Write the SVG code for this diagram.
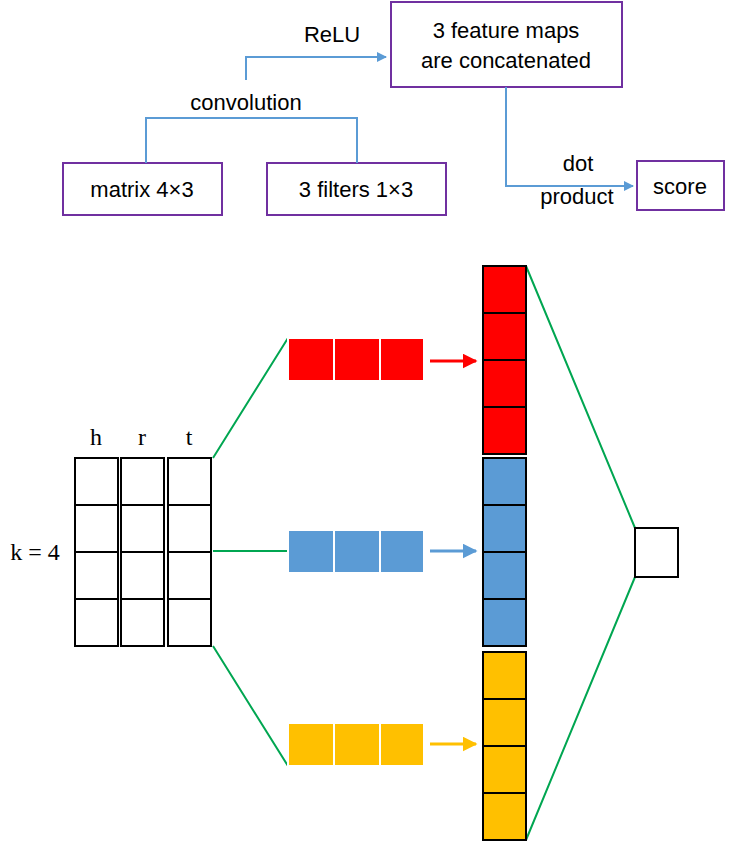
<svg xmlns="http://www.w3.org/2000/svg" width="729" height="846" viewBox="0 0 729 846">
<style>
.box{fill:#fff;stroke:#7030a0;stroke-width:2}
.t{font-family:"Liberation Sans",Arial,sans-serif;font-size:22px;fill:#000;text-anchor:middle}
.s{font-family:"Liberation Serif","Times New Roman",serif;font-size:24px;fill:#000;text-anchor:middle}
.c{fill:none;stroke:#5b9bd5;stroke-width:2}
.g{fill:none;stroke:#00a651;stroke-width:2}
.cell{stroke:#000;stroke-width:2}
.f{stroke:#fff;stroke-width:2}
</style>
<defs>
<marker id="ab" viewBox="0 0 10 10" refX="9" refY="5" markerWidth="5" markerHeight="5" orient="auto"><path d="M0,0L10,5L0,10z" fill="#5b9bd5"/></marker>
<marker id="ar" viewBox="0 0 10 10" refX="9" refY="5" markerWidth="5" markerHeight="5" orient="auto"><path d="M0,0L10,5L0,10z" fill="#ff0000"/></marker>
<marker id="ay" viewBox="0 0 10 10" refX="9" refY="5" markerWidth="5" markerHeight="5" orient="auto"><path d="M0,0L10,5L0,10z" fill="#ffc000"/></marker>
</defs>
<g id="n-matrix"><rect class="box" x="63" y="163" width="159" height="52"/><text class="t" x="142" y="197">matrix 4×3</text></g>
<g id="n-filters"><rect class="box" x="267" y="163" width="179" height="52"/><text class="t" x="356" y="197">3 filters 1×3</text></g>
<g id="n-feature"><rect class="box" x="391" y="2" width="231" height="85"/><text class="t" x="506" y="38">3 feature maps</text><text class="t" x="506" y="68">are concatenated</text></g>
<g id="n-score"><rect class="box" x="637" y="161" width="87" height="49"/><text class="t" x="680" y="194">score</text></g>
<g id="connectors">
<path class="c" d="M146,163V118H357V163"/>
<path class="c" d="M246,80V57H386" marker-end="url(#ab)"/>
<path class="c" d="M506,87V186H633" marker-end="url(#ab)"/>
<path class="g" d="M213,458L288,338M213,551H288M213,646L288,766M526,266L635,528M526,840L635,577"/>
<path d="M430,361H476" stroke="#ff0000" stroke-width="3" marker-end="url(#ar)"/>
<path d="M430,551H476" stroke="#5b9bd5" stroke-width="3" marker-end="url(#ab)"/>
<path d="M430,744H476" stroke="#ffc000" stroke-width="3" marker-end="url(#ay)"/>
</g>
<text class="t" x="332" y="42">ReLU</text>
<text class="t" x="246" y="110">convolution</text>
<text class="t" x="578" y="171">dot</text>
<text class="t" x="577" y="204">product</text>
<g id="n-hrt">
<text class="s" x="96" y="445">h</text><text class="s" x="142" y="445">r</text><text class="s" x="189" y="445">t</text>
<text class="s" x="35" y="560">k = 4</text>
<g fill="#fff" class="cell">
<rect x="75" y="458" width="43" height="47"/><rect x="75" y="505" width="43" height="47"/><rect x="75" y="552" width="43" height="47"/><rect x="75" y="599" width="43" height="47"/>
<rect x="121" y="458" width="43" height="47"/><rect x="121" y="505" width="43" height="47"/><rect x="121" y="552" width="43" height="47"/><rect x="121" y="599" width="43" height="47"/>
<rect x="168" y="458" width="43" height="47"/><rect x="168" y="505" width="43" height="47"/><rect x="168" y="552" width="43" height="47"/><rect x="168" y="599" width="43" height="47"/>
</g></g>
<g id="n-filter-red" fill="#ff0000" class="f"><rect x="288" y="338" width="46" height="43"/><rect x="334" y="338" width="46" height="43"/><rect x="380" y="338" width="44" height="43"/></g>
<g id="n-filter-blue" fill="#5b9bd5" class="f"><rect x="288" y="530" width="46" height="43"/><rect x="334" y="530" width="46" height="43"/><rect x="380" y="530" width="44" height="43"/></g>
<g id="n-filter-yellow" fill="#ffc000" class="f"><rect x="288" y="723" width="46" height="43"/><rect x="334" y="723" width="46" height="43"/><rect x="380" y="723" width="44" height="43"/></g>
<g id="n-concat" class="cell">
<g fill="#ff0000"><rect x="483" y="266" width="43" height="47"/><rect x="483" y="313" width="43" height="47"/><rect x="483" y="360" width="43" height="47"/><rect x="483" y="407" width="43" height="47"/></g>
<g fill="#5b9bd5"><rect x="483" y="458" width="43" height="47"/><rect x="483" y="505" width="43" height="47"/><rect x="483" y="552" width="43" height="47"/><rect x="483" y="599" width="43" height="47"/></g>
<g fill="#ffc000"><rect x="483" y="652" width="43" height="47"/><rect x="483" y="699" width="43" height="47"/><rect x="483" y="746" width="43" height="47"/><rect x="483" y="793" width="43" height="47"/></g>
</g>
<g id="n-out"><rect x="635" y="528" width="43" height="49" fill="#fff" stroke="#000" stroke-width="2"/></g>
</svg>
